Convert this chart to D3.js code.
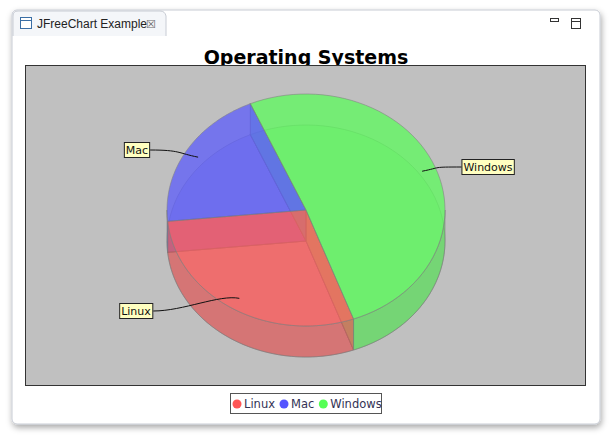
<!DOCTYPE html>
<html><head><meta charset="utf-8">
<script src="https://cdn.jsdelivr.net/npm/d3@7"></script>
<style>body{margin:0;background:#fff}svg{display:block}</style>
</head><body>
<svg id="chart" width="612" height="437"></svg>
<script>
const categories = ['Linux', 'Mac', 'Windows'];
const shares = [29, 20, 51];
const colors = ['#ff5555', '#5555ff', '#55ff55'];
const title = 'Operating Systems';

const svg = d3.select('#chart');
const cx = 306, cy = 210, rx = 139, ry = 116, depth = 31;
const startAngle = 290; // degrees, drawing clockwise

// window frame
const defs = svg.append('defs');
const f = defs.append('filter').attr('id', 'sh').attr('x', '-5%').attr('y', '-5%').attr('width', '110%').attr('height', '115%');
f.append('feDropShadow').attr('dx', 1).attr('dy', 3).attr('stdDeviation', 3).attr('flood-color', '#000').attr('flood-opacity', 0.35);
svg.append('rect').attr('x', 12).attr('y', 10).attr('width', 588).attr('height', 414).attr('rx', 5)
  .attr('fill', '#fff').attr('stroke', '#c8ccd4').attr('filter', 'url(#sh)');
svg.append('path').attr('d', 'M13,36 L13,16 Q13,11 18,11 L160,11 Q165,11 166,16 L166,36')
  .attr('fill', '#f4f6f9').attr('stroke', '#c8ccd4');
svg.append('rect').attr('x', 20.5).attr('y', 17.5).attr('width', 11).attr('height', 11).attr('fill', '#fff').attr('stroke', '#3a6ea5');
svg.append('line').attr('x1', 21).attr('x2', 31).attr('y1', 20.5).attr('y2', 20.5).attr('stroke', '#3a6ea5');
svg.append('text').attr('x', 37).attr('y', 28).attr('font-family', 'Liberation Sans').attr('font-size', 12).attr('fill', '#222').text('JFreeChart Example');
svg.append('text').attr('x', 146).attr('y', 28).attr('font-family', 'DejaVu Sans').attr('font-size', 11).attr('fill', '#666').text('\u2612');
svg.append('rect').attr('x', 550.5).attr('y', 18.5).attr('width', 8).attr('height', 3).attr('fill', 'none').attr('stroke', '#333');
svg.append('rect').attr('x', 571.5).attr('y', 18.5).attr('width', 9).attr('height', 10).attr('fill', 'none').attr('stroke', '#333');
svg.append('line').attr('x1', 572).attr('x2', 580).attr('y1', 21.5).attr('y2', 21.5).attr('stroke', '#333');

// title (partly covered by the plot, as in the reference)
svg.append('text').attr('x', 306).attr('y', 64).attr('text-anchor', 'middle')
  .attr('font-family', 'DejaVu Sans').attr('font-weight', 'bold').attr('font-size', 19).text(title);

svg.append('rect').attr('x', 25.5).attr('y', 65.5).attr('width', 560).attr('height', 320)
  .attr('fill', '#c0c0c0').attr('stroke', '#333');

// slices
const total = d3.sum(shares);
const toRad = d3.scaleLinear().domain([0, total]).range([startAngle * Math.PI / 180, (startAngle - 360) * Math.PI / 180]);
let acc = 0;
const slices = shares.map((v, i) => { const s = { i, a0: toRad(acc), a1: toRad(acc + v) }; acc += v; return s; });
const pt = (t, dy = 0, k = 1) => [cx + rx * k * Math.cos(t), cy - ry * k * Math.sin(t) + dy];
const arcPath = (a0, a1, dy) => {
  const pts = d3.range(0, 61).map(j => pt(a0 + (a1 - a0) * j / 60, dy));
  return 'M' + [cx, cy + dy] + 'L' + pts.join('L') + 'Z';
};
const g = svg.append('g').attr('stroke', '#808080').attr('stroke-width', 0.8).attr('stroke-opacity', 0.7);
const darker = c => d3.color(c).darker(0.35).formatHex();
// bottom faces
slices.forEach(s => g.append('path').attr('d', arcPath(s.a0, s.a1, depth)).attr('fill', darker(colors[s.i])).attr('fill-opacity', 0.2));
// radial walls
slices.forEach(s => [s.a0, s.a1].forEach(a => {
  const p = pt(a), q = pt(a, depth);
  g.append('path').attr('d', 'M' + [cx, cy] + 'L' + p + 'L' + q + 'L' + [cx, cy + depth] + 'Z')
    .attr('fill', colors[s.i]).attr('fill-opacity', 0.3);
}));
// outer side walls (front half only)
slices.forEach(s => {
  const lo = Math.min(s.a0, s.a1), hi = Math.max(s.a0, s.a1);
  const segs = [];
  for (let k = -2; k <= 2; k++) {
    const b0 = Math.max(lo, Math.PI * (2 * k - 1)), b1 = Math.min(hi, Math.PI * 2 * k);
    if (b1 > b0) segs.push([b0, b1]);
  }
  segs.forEach(([b0, b1]) => {
    const top = d3.range(0, 41).map(j => pt(b0 + (b1 - b0) * j / 40));
    const bot = d3.range(40, -1, -1).map(j => pt(b0 + (b1 - b0) * j / 40, depth));
    g.append('path').attr('d', 'M' + top.join('L') + 'L' + bot.join('L') + 'Z')
      .attr('fill', darker(colors[s.i])).attr('fill-opacity', 0.55);
  });
});
// top faces
slices.forEach(s => g.append('path').attr('d', arcPath(s.a0, s.a1, 0)).attr('fill', colors[s.i]).attr('fill-opacity', 0.7));

// labels
const labelPos = [[136, 311, 'end'], [137, 150, 'end'], [488, 167, 'start']];
slices.forEach(s => {
  const mid = (s.a0 + s.a1) / 2;
  const a = pt(mid, 0, 0.9);
  const [lx, ly] = labelPos[s.i];
  const left = Math.cos(mid) < 0;
  const t = svg.append('text').attr('font-family', 'DejaVu Sans').attr('font-size', 11).attr('fill', '#111')
    .attr('text-anchor', 'middle').attr('x', lx).attr('y', ly + 4).text(categories[s.i]);
  const bb = t.node().getBBox();
  const ex = left ? bb.x + bb.width + 2 : bb.x - 2;
  svg.insert('rect', () => t.node()).attr('x', bb.x - 1.5).attr('y', ly - 7.5).attr('width', bb.width + 3).attr('height', 15)
    .attr('fill', '#ffffc0').attr('stroke', '#222');
  const dir = left ? 1 : -1;
  svg.append('path').attr('d', `M${ex},${ly} C${ex + dir * 30},${ly} ${a[0] - dir * 20},${a[1] - 4} ${a[0]},${a[1]}`)
    .attr('fill', 'none').attr('stroke', '#111');
});

// legend
const lg = svg.append('g');
lg.append('rect').attr('x', 230.5).attr('y', 393.5).attr('width', 151).attr('height', 20).attr('fill', '#fff').attr('stroke', '#555');
let x = 237;
categories.forEach((c, i) => {
  lg.append('circle').attr('cx', x).attr('cy', 404).attr('r', 4.5).attr('fill', colors[i]);
  const t = lg.append('text').attr('x', x + 7).attr('y', 408).attr('font-family', 'DejaVu Sans').attr('font-size', 11.5).attr('fill', '#333355').text(c);
  x += 7 + t.node().getComputedTextLength() + 9;
});
</script>
</body></html>
